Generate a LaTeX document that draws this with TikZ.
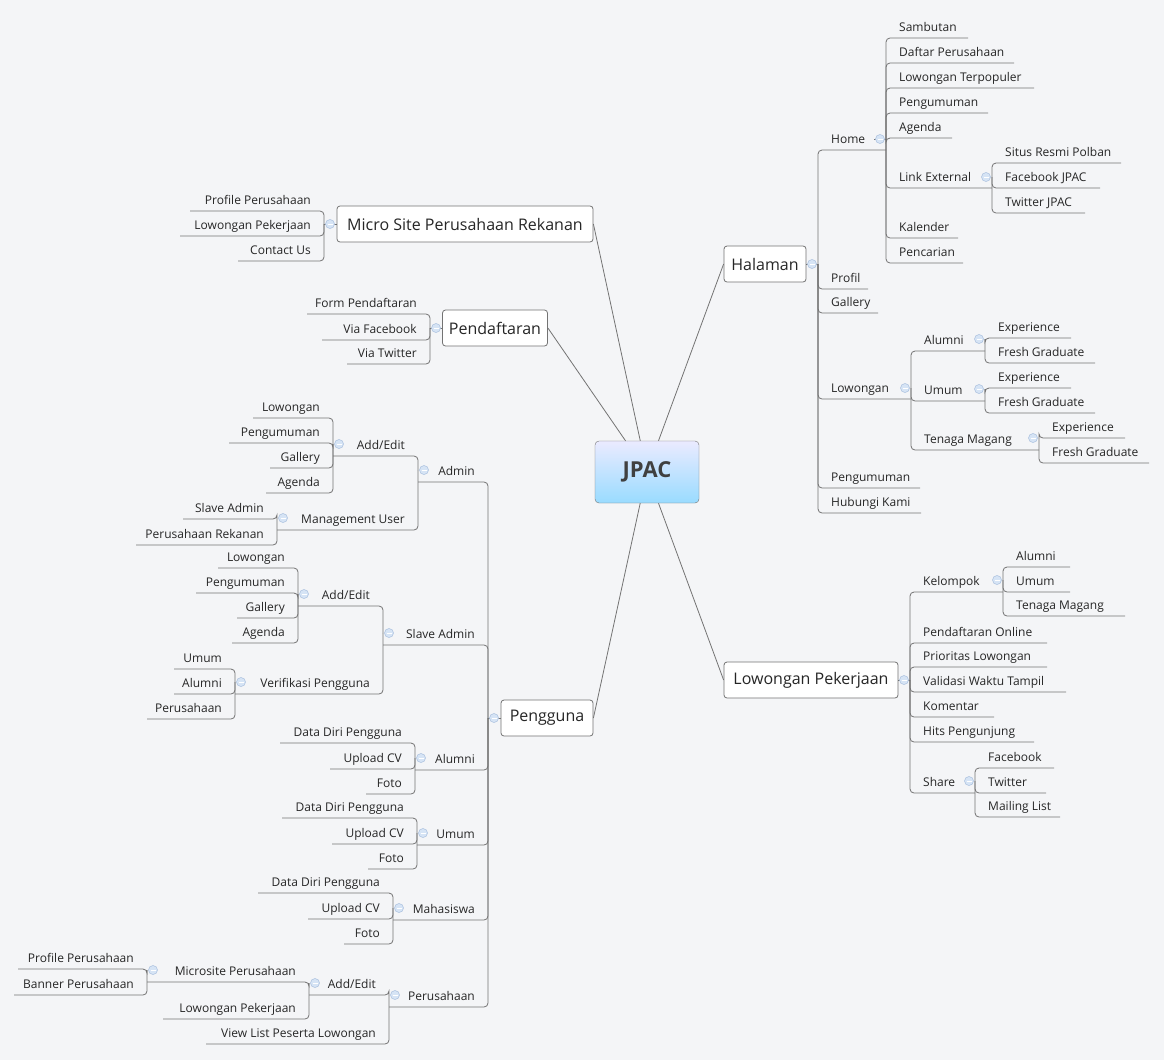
\documentclass[tikz,border=0pt]{standalone}
\usepackage{fontspec}
\setmainfont{Open Sans}
\definecolor{bg}{HTML}{F4F5F7}
\definecolor{colf}{HTML}{D6E4F5}
\definecolor{cold}{HTML}{A9C0DE}
\begin{document}
\begin{tikzpicture}[x=1pt,y=-1pt,
  ln/.style={draw=black!55,line width=0.8pt,rounded corners=4pt},
  lbl/.style={font=\fontsize{12}{14}\selectfont,text=black!85,inner sep=0pt},
  box/.style={draw=black!55,fill=white,rounded corners=3pt,minimum height=36pt,font=\fontsize{16}{19}\selectfont,text=black!85,line width=0.8pt},
  col/.style={circle,draw=cold,fill=colf,minimum size=9pt,inner sep=0pt,line width=0.5pt}]
\fill[bg] (0,0) rectangle (1164,1060);
\useasboundingbox (0,0) rectangle (1164,1060);
\newcommand\rleaf[5]{\draw[ln] (#1,#2) |- (#3,#4);\node[lbl,anchor=base west] at (#1+13,#4-7) {#5};}
\newcommand\lleaf[5]{\draw[ln] (#1,#2) |- (#3,#4);\node[lbl,anchor=base east] at (#1-13,#4-7) {#5};}
\newcommand\colp[2]{\node[col] at (#1,#2) {};\draw[white,line width=0.8pt] (#1-2.5,#2) -- (#1+2.5,#2);}
% central
\node[draw=black!55,rounded corners=4pt,minimum width=104pt,minimum height=62pt,top color=blue!8,bottom color=blue!35!cyan!40,font=\fontsize{22}{26}\bfseries\selectfont,text=black!75] (jpac) at (647,472) {JPAC};
\node[box,minimum width=82pt] (hal) at (765,264) {Halaman};
\node[box,minimum width=174pt] (lp) at (811,680) {Lowongan Pekerjaan};
\node[box,minimum width=256pt] (ms) at (465,224) {Micro Site Perusahaan Rekanan};
\node[box,minimum width=105pt] (pd) at (495,328) {Pendaftaran};
\node[box,minimum width=92pt] (pg) at (547,718) {Pengguna};
\foreach \a/\b in {hal/west,lp/west,ms/east,pd/east,pg/east}{\draw[black!55,line width=0.8pt] (jpac) -- (\a.\b);}
% Halaman
\draw[ln] (hal.east) -- (818,264);
\rleaf{818}{264}{886}{150}{Home}
\rleaf{818}{264}{868}{289}{Profil}
\rleaf{818}{264}{878}{313}{Gallery}
\rleaf{818}{264}{911}{399}{Lowongan}
\rleaf{818}{264}{920}{488}{Pengumuman}
\rleaf{818}{264}{921}{513}{Hubungi Kami}
\draw[ln] (874,139) -- (886,139);
\rleaf{886}{139}{968}{38}{Sambutan}
\rleaf{886}{139}{1014}{63}{Daftar Perusahaan}
\rleaf{886}{139}{1034}{88}{Lowongan Terpopuler}
\rleaf{886}{139}{988}{113}{Pengumuman}
\rleaf{886}{139}{952}{138}{Agenda}
\rleaf{886}{139}{992}{188}{Link External}
\rleaf{886}{139}{958}{238}{Kalender}
\rleaf{886}{139}{963}{263}{Pencarian}
\rleaf{992}{177}{1121}{163}{Situs Resmi Polban}
\rleaf{992}{177}{1100}{188}{Facebook JPAC}
\rleaf{992}{177}{1085}{213}{Twitter JPAC}
\rleaf{911}{388}{985}{351}{Alumni}
\rleaf{911}{388}{985}{401}{Umum}
\rleaf{911}{388}{1039}{450}{Tenaga Magang}
\rleaf{985}{339}{1071}{338}{Experience}
\rleaf{985}{339}{1095}{363}{Fresh Graduate}
\rleaf{985}{389}{1071}{388}{Experience}
\rleaf{985}{389}{1095}{413}{Fresh Graduate}
\rleaf{1039}{438}{1125}{438}{Experience}
\rleaf{1039}{438}{1149}{463}{Fresh Graduate}
\colp{812}{264}\colp{880}{139}\colp{986}{177}\colp{905}{388}\colp{979}{339}\colp{979}{389}\colp{1033}{438}
% Lowongan Pekerjaan
\draw[ln] (lp.east) -- (910,680);
\rleaf{910}{680}{1003}{592}{Kelompok}
\rleaf{910}{680}{1047}{643}{Pendaftaran Online}
\rleaf{910}{680}{1047}{667}{Prioritas Lowongan}
\rleaf{910}{680}{1066}{692}{Validasi Waktu Tampil}
\rleaf{910}{680}{994}{717}{Komentar}
\rleaf{910}{680}{1034}{742}{Hits Pengunjung}
\rleaf{910}{680}{975}{793}{Share}
\rleaf{1003}{580}{1070}{567}{Alumni}
\rleaf{1003}{580}{1070}{592}{Umum}
\rleaf{1003}{580}{1125}{616}{Tenaga Magang}
\rleaf{975}{781}{1054}{768}{Facebook}
\rleaf{975}{781}{1046}{793}{Twitter}
\rleaf{975}{781}{1060}{817}{Mailing List}
\colp{904}{680}\colp{997}{580}\colp{969}{781}
% Micro Site
\draw[ln] (ms.west) -- (324,224);
\lleaf{324}{224}{190}{211}{Profile Perusahaan}
\lleaf{324}{224}{180}{236}{Lowongan Pekerjaan}
\lleaf{324}{224}{238}{261}{Contact Us}
\colp{330}{224}
% Pendaftaran
\draw[ln] (pd.west) -- (430,328);
\lleaf{430}{328}{307}{314}{Form Pendaftaran}
\lleaf{430}{328}{322}{340}{Via Facebook}
\lleaf{430}{328}{347}{364}{Via Twitter}
\colp{436}{328}
% Pengguna
\draw[ln] (pg.west) -- (488,718);
\lleaf{488}{718}{418}{482}{Admin}
\lleaf{488}{718}{383}{645}{Slave Admin}
\lleaf{488}{718}{415}{770}{Alumni}
\lleaf{488}{718}{417}{845}{Umum}
\lleaf{488}{718}{393}{920}{Mahasiswa}
\lleaf{488}{718}{389}{1007}{Perusahaan}
\lleaf{418}{470}{333}{456}{Add/Edit}
\lleaf{418}{470}{277}{530}{Management User}
\lleaf{333}{444}{253}{418}{Lowongan}
\lleaf{333}{444}{229}{443}{Pengumuman}
\lleaf{333}{444}{270}{468}{Gallery}
\lleaf{333}{444}{266}{493}{Agenda}
\lleaf{277}{518}{183}{519}{Slave Admin}
\lleaf{277}{518}{136}{545}{Perusahaan Rekanan}
\lleaf{383}{633}{298}{606}{Add/Edit}
\lleaf{383}{633}{235}{694}{Verifikasi Pengguna}
\lleaf{298}{594}{218}{568}{Lowongan}
\lleaf{298}{594}{196}{593}{Pengumuman}
\lleaf{298}{594}{237}{618}{Gallery}
\lleaf{298}{594}{232}{643}{Agenda}
\lleaf{235}{682}{174}{669}{Umum}
\lleaf{235}{682}{174}{694}{Alumni}
\lleaf{235}{682}{147}{719}{Perusahaan}
\lleaf{415}{758}{280}{743}{Data Diri Pengguna}
\lleaf{415}{758}{330}{769}{Upload CV}
\lleaf{415}{758}{366}{794}{Foto}
\lleaf{417}{833}{282}{818}{Data Diri Pengguna}
\lleaf{417}{833}{332}{844}{Upload CV}
\lleaf{417}{833}{368}{869}{Foto}
\lleaf{393}{908}{258}{893}{Data Diri Pengguna}
\lleaf{393}{908}{308}{919}{Upload CV}
\lleaf{393}{908}{344}{944}{Foto}
\lleaf{389}{995}{309}{995}{Add/Edit}
\lleaf{389}{995}{206}{1044}{View List Peserta Lowongan}
\lleaf{309}{983}{147}{982}{Microsite Perusahaan}
\lleaf{309}{983}{163}{1019}{Lowongan Pekerjaan}
\lleaf{147}{970}{18}{969}{Profile Perusahaan}
\lleaf{147}{970}{14}{995}{Banner Perusahaan}
\colp{494}{718}\colp{424}{470}\colp{339}{444}\colp{283}{518}\colp{389}{633}\colp{304}{594}\colp{241}{682}
\colp{421}{758}\colp{423}{833}\colp{399}{908}\colp{395}{995}\colp{315}{983}\colp{153}{970}
\end{tikzpicture}
\end{document}
